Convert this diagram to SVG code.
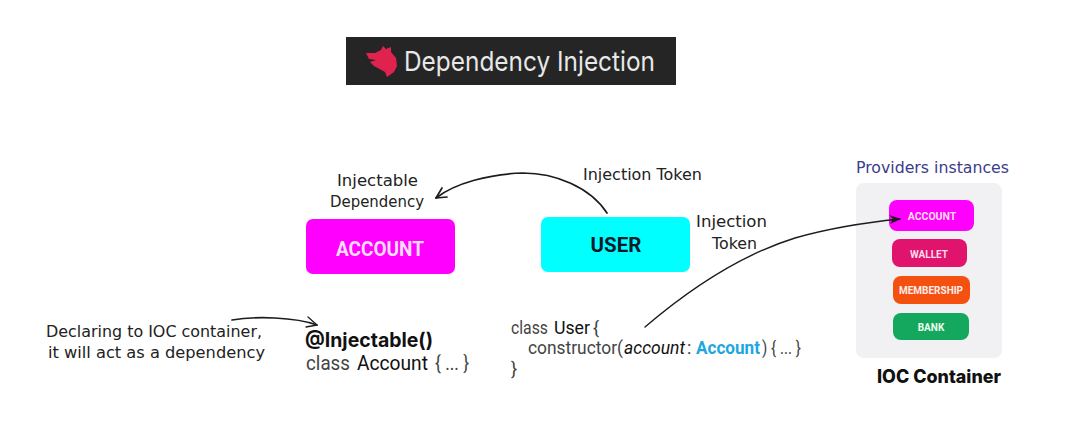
<svg xmlns="http://www.w3.org/2000/svg" width="1078" height="421" viewBox="0 0 1078 421">
<defs>
<style>
.hand{font-family:"DejaVu Sans","Noto Sans",sans-serif;font-size:15.5px;fill:#222}
.ui{font-family:Inter,Roboto,"Liberation Sans",sans-serif}
.code{font-family:Roboto,"Liberation Sans",sans-serif;font-size:18px;fill:#444}
.big{font-size:20px}
.ink{fill:#111}
.lbl{font-family:Roboto,"Liberation Sans",sans-serif;font-weight:700;text-anchor:middle}
.conn{fill:none;stroke:#1c1c1c;stroke-width:1.7;stroke-linecap:round}
</style>
</defs>
<rect width="1078" height="421" fill="#fff"/>
<g id="title">
<rect x="346" y="37" width="330" height="48" fill="#252525"/>
<path d="M366 53 L375 53 L381 50 L383 46 L386 49 L391 47 L391 52 L396 58 L397 66 L394 72 L387 77 L385 72 L374 66 L370 62 L376 60 L369 59Z" fill="#e0234e"/>
<text x="404" y="71" class="ui" font-size="27.5" fill="#e8e8e8" textLength="251" lengthAdjust="spacingAndGlyphs">Dependency Injection</text>
</g>
<g id="injectable-label">
<text class="hand" x="337" y="186" textLength="81" lengthAdjust="spacingAndGlyphs">Injectable</text>
<text class="hand" x="330" y="207" textLength="94" lengthAdjust="spacingAndGlyphs">Dependency</text>
</g>
<g id="token-label-1"><text class="hand" x="583" y="180" textLength="119" lengthAdjust="spacingAndGlyphs">Injection Token</text></g>
<g id="token-label-2">
<text class="hand" x="696" y="227" textLength="71" lengthAdjust="spacingAndGlyphs">Injection</text>
<text class="hand" x="712" y="249" textLength="45" lengthAdjust="spacingAndGlyphs">Token</text>
</g>
<g id="account">
<rect x="306" y="219" width="149" height="55" rx="7" fill="#ff00ff"/>
<text class="lbl" x="380" y="256" font-size="20.5" fill="#fdf" textLength="88" lengthAdjust="spacingAndGlyphs">ACCOUNT</text>
</g>
<g id="user">
<rect x="541" y="217" width="149" height="55" rx="7" fill="#00ffff"/>
<text class="lbl" x="616" y="252" font-size="20.5" fill="#0c1a2a">USER</text>
</g>
<g id="ioc-container">
<text x="856" y="173" class="hand" style="fill:#3c3c8c" textLength="153" lengthAdjust="spacingAndGlyphs">Providers instances</text>
<rect x="856" y="183" width="146" height="175" rx="8" fill="#f1f1f3"/>
<text x="939" y="383" class="ui" font-size="18.5" font-weight="800" fill="#111" text-anchor="middle" textLength="124" lengthAdjust="spacingAndGlyphs">IOC Container</text>
</g>
<g id="provider-account">
<rect x="889" y="200" width="85" height="31" rx="8" fill="#ff00ff"/>
<text class="lbl" x="932" y="220" font-size="10.5" fill="#fde">ACCOUNT</text>
</g>
<g id="provider-wallet">
<rect x="892" y="239" width="75" height="28" rx="8" fill="#e0146c"/>
<text class="lbl" x="929" y="258" font-size="10" fill="#fde">WALLET</text>
</g>
<g id="provider-membership">
<rect x="893" y="276" width="77" height="28" rx="8" fill="#f4500f"/>
<text class="lbl" x="931" y="294" font-size="10" fill="#fee">MEMBERSHIP</text>
</g>
<g id="provider-bank">
<rect x="893" y="313" width="76" height="27" rx="8" fill="#14a85e"/>
<text class="lbl" x="931" y="331" font-size="10" fill="#efe">BANK</text>
</g>
<g id="declaring-note">
<text class="hand" x="46" y="337" textLength="216" lengthAdjust="spacingAndGlyphs">Declaring to IOC container,</text>
<text class="hand" x="48" y="358" textLength="217" lengthAdjust="spacingAndGlyphs">it will act as a dependency</text>
</g>
<g id="account-code">
<text x="305" y="347" class="ui" font-size="20" font-weight="700" fill="#111" textLength="128" lengthAdjust="spacingAndGlyphs">@Injectable()</text>
<text x="306" y="370" class="code big" textLength="44" lengthAdjust="spacingAndGlyphs">class</text>
<text x="357" y="370" class="code big ink" textLength="71" lengthAdjust="spacingAndGlyphs">Account</text>
<text x="435" y="370" class="code big" textLength="34" lengthAdjust="spacingAndGlyphs">{ ... }</text>
</g>
<g id="user-code">
<text x="511" y="334" class="code" textLength="37" lengthAdjust="spacingAndGlyphs">class</text>
<text x="554" y="334" class="code ink" textLength="36" lengthAdjust="spacingAndGlyphs">User</text>
<text x="593" y="334" class="code">{</text>
<text x="528" y="354" class="code" textLength="95" lengthAdjust="spacingAndGlyphs">constructor(</text>
<text x="624" y="354" class="code ink" font-style="italic" textLength="61" lengthAdjust="spacingAndGlyphs">account</text>
<text x="687" y="354" class="code">:</text>
<text x="696" y="354" class="code" style="fill:#1da7de" font-weight="700" textLength="64" lengthAdjust="spacingAndGlyphs">Account</text>
<text x="762" y="354" class="code" textLength="39" lengthAdjust="spacingAndGlyphs">) { ... }</text>
<text x="511" y="375" class="code">}</text>
</g>
<g id="connectors">
<path class="conn" d="M607 213 C590 187 555 173 523 173 C490 174 455 183 436 198"/>
<path class="conn" d="M436 198 L442 188 M436 198 L447 197"/>
<path class="conn" d="M645 327 C700 280 750 252 795 238 C830 228 860 223 900 219" style="stroke-width:1.4"/>
<path d="M889 215 L901 219 L890 224 L893 219Z" fill="#1c1c1c"/>
<path class="conn" d="M232 320 C255 316 295 317 317 325"/>
<path class="conn" d="M317 325 L308 317 M317 325 L306 327" style="stroke-width:1.3"/>
</g>
</svg>
